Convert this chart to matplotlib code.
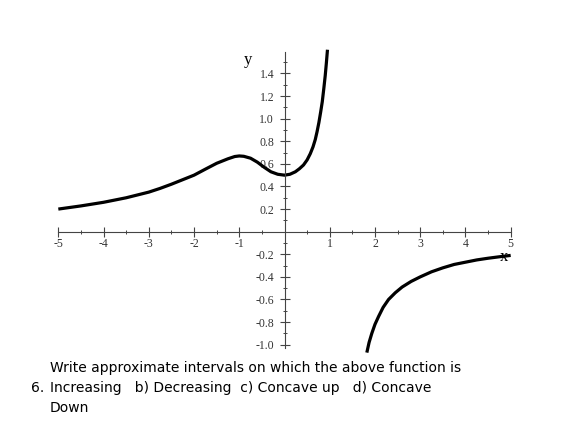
import numpy as np
import matplotlib
matplotlib.use("Agg")
import matplotlib.pyplot as plt
from matplotlib.ticker import FixedLocator, FormatStrFormatter

plt.rcParams['axes.unicode_minus'] = False

# curve, two branches either side of the asymptote
left_x = [-5.0, -4.5, -4.0, -3.5, -3.0, -2.75, -2.5, -2.25, -2.0, -1.75, -1.5,
          -1.25, -1.1, -1.0, -0.9, -0.75, -0.6, -0.45, -0.3, -0.15, 0.0, 0.12,
          0.24, 0.33, 0.42, 0.5, 0.57, 0.63, 0.68, 0.72, 0.76, 0.8, 0.835, 0.87,
          0.9, 0.925, 0.95]
left_y = [0.200, 0.228, 0.260, 0.300, 0.350, 0.383, 0.420, 0.460, 0.500, 0.553,
          0.605, 0.645, 0.665, 0.670, 0.667, 0.650, 0.615, 0.570, 0.530, 0.508,
          0.500, 0.508, 0.530, 0.557, 0.590, 0.635, 0.690, 0.750, 0.815, 0.885,
          0.965, 1.060, 1.150, 1.270, 1.380, 1.490, 1.610]
right_x = [1.82, 1.87, 1.93, 2.0, 2.08, 2.18, 2.3, 2.45, 2.6, 2.8, 3.0, 3.25,
           3.5, 3.75, 4.0, 4.25, 4.5, 4.75, 5.0]
right_y = [-1.07, -0.98, -0.90, -0.82, -0.75, -0.67, -0.60, -0.54, -0.49, -0.44,
           -0.40, -0.355, -0.32, -0.29, -0.27, -0.25, -0.235, -0.222, -0.21]

x_ticks = [-5, -4, -3, -2, -1, 1, 2, 3, 4, 5]
y_ticks = [-1.0, -0.8, -0.6, -0.4, -0.2, 0.2, 0.4, 0.6, 0.8, 1.0, 1.2, 1.4]

question = [
    "Write approximate intervals on which the above function is",
    "Increasing   b) Decreasing  c) Concave up   d) Concave",
    "Down",
]

W, H = 573, 438
fig = plt.figure(figsize=(W / 100, H / 100), dpi=100)

# axes box in pixels: x -5.5..5.5, y -1.1..1.65
ax = fig.add_axes([35.7 / W, 1 - 356.0 / H, 497.6 / W, 310.8 / H])
ax.set_xlim(-5.5, 5.5)
ax.set_ylim(-1.1, 1.65)

ax.plot(left_x, left_y, color='black', lw=2.3, solid_capstyle='butt', solid_joinstyle='round')
ax.plot(right_x, right_y, color='black', lw=2.3, solid_capstyle='butt', solid_joinstyle='round')

for s in ['top', 'right']:
    ax.spines[s].set_visible(False)
ax.spines['left'].set_position(('data', 0))
ax.spines['bottom'].set_position(('data', 0))
ax.spines['left'].set_bounds(-1.03, 1.59)
ax.spines['bottom'].set_bounds(-5, 5)
for s in ['left', 'bottom']:
    ax.spines[s].set_color('#444444')
    ax.spines[s].set_linewidth(0.8)

ax.set_xticks(x_ticks)
ax.set_yticks(y_ticks)
ax.xaxis.set_minor_locator(FixedLocator(np.arange(-4.5, 5.0, 1.0)))
ax.yaxis.set_minor_locator(FixedLocator(np.arange(-0.9, 1.55, 0.2)))
ax.yaxis.set_major_formatter(FormatStrFormatter('%.1f'))
ax.tick_params(which='major', direction='inout', length=7, width=0.8,
               color='#444444', labelsize=8.5, labelfontfamily='Liberation Serif',
               labelcolor='#333333')
ax.tick_params(which='minor', direction='inout', length=3, width=0.7, color='#444444')
ax.tick_params(axis='x', pad=1)
ax.tick_params(axis='y', pad=4)

ax.text(-0.8, 1.52, 'y', fontsize=12, family='Liberation Serif', ha='center', va='center')
ax.text(4.85, -0.22, 'x', fontsize=12, family='Liberation Serif', ha='center', va='center')

fig.text(50 / W, 1 - 368.3 / H, question[0], fontsize=10, va='center', ha='left')
fig.text(31.5 / W, 1 - 387.7 / H, '6.', fontsize=10, va='center', ha='left')
fig.text(50 / W, 1 - 387.7 / H, question[1], fontsize=10, va='center', ha='left')
fig.text(50 / W, 1 - 407.7 / H, question[2], fontsize=10, va='center', ha='left')

fig.savefig('out.png', dpi=100)
